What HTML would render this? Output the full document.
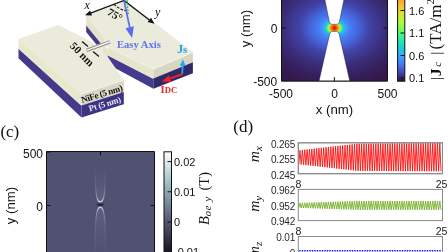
<!DOCTYPE html>
<html><head><meta charset="utf-8"><style>
html,body{margin:0;padding:0;background:#fff;}
body{width:448px;height:252px;overflow:hidden;}
svg{display:block;}
</style></head><body>
<svg width="448" height="252" viewBox="0 0 448 252">
<rect width="448" height="252" fill="#fff"/>
<polygon points="86.20,15.50 104.50,38.00 104.50,48.00 86.20,25.50" fill="#e4e4cc" />
<polygon points="86.20,25.50 104.50,48.00 104.50,54.50 86.20,32.00" fill="#443a8a" />
<polygon points="107.50,46.50 153.40,69.20 153.40,78.60 107.50,55.00" fill="#e6e6cc" />
<polygon points="107.50,55.00 153.40,78.60 153.40,88.80 107.50,64.00" fill="#453a8c" />
<line x1="107.50" y1="55.00" x2="153.40" y2="78.60" stroke="#f7f7de" stroke-width="0.8"/>
<polygon points="153.40,69.20 192.90,52.20 192.90,62.20 153.40,78.60" fill="#d8d6c2" />
<polygon points="153.40,78.60 192.90,62.20 192.90,73.20 153.40,88.80" fill="#2f2a6a" />
<polygon points="86.20,15.50 124.50,-0.50 192.90,52.20 153.40,69.20 107.50,46.50 104.50,38.00" fill="#ebebdc" />
<line x1="153.40" y1="69.20" x2="192.90" y2="52.20" stroke="#f4f4ea" stroke-width="0.9"/>
<line x1="107.50" y1="46.50" x2="153.40" y2="69.20" stroke="#f4f4ea" stroke-width="0.7"/>
<polygon points="18.50,39.00 81.50,94.00 81.50,105.50 18.50,48.50" fill="#e8e8ce" />
<polygon points="18.50,48.50 81.50,105.50 81.50,117.50 18.50,58.30" fill="#453a8a" />
<line x1="18.50" y1="48.50" x2="81.50" y2="105.50" stroke="#f7f7de" stroke-width="0.8"/>
<polygon points="81.50,94.00 123.80,80.00 123.80,92.00 81.50,105.50" fill="#dad8c4" />
<polygon points="81.50,105.50 123.80,92.00 123.80,104.30 81.50,117.50" fill="#3c3484" />
<polygon points="18.50,39.00 58.30,25.00 90.00,41.00 103.00,50.00 123.80,80.00 81.50,94.00" fill="#ebebdc" />
<line x1="81.50" y1="94.00" x2="123.80" y2="80.00" stroke="#f4f4ea" stroke-width="0.9"/>
<polygon points="92.00,46.50 101.50,43.00 108.00,44.50 104.00,51.00 96.00,50.00" fill="#ebebdc" />
<path d="M102.5,46 Q106,46.5 107.5,50 L108,55.5 Q104,55 103,51 Z" fill="#e4e4cc"/>
<line x1="86.5" y1="50.4" x2="110" y2="41.8" stroke="#8e8e86" stroke-width="3.4"/>
<line x1="86.5" y1="50.4" x2="110" y2="41.8" stroke="#f6f6f0" stroke-width="1.5"/>
<line x1="82" y1="41.5" x2="88" y2="46.5" stroke="#111" stroke-width="1.2"/>
<line x1="93" y1="51.5" x2="99" y2="56.5" stroke="#111" stroke-width="1.2"/>
<text x="0" y="0" transform="translate(69.3,46.6) rotate(45)" font-family="'Liberation Serif', 'Times New Roman', serif" font-weight="bold" font-size="11" fill="#111">50 nm</text>
<line x1="124.00" y1="0.50" x2="90.61" y2="13.17" stroke="#111" stroke-width="1.30"/><polygon points="85.00,15.30 90.08,10.38 92.07,15.61" fill="#111" />
<line x1="124.00" y1="0.50" x2="149.73" y2="20.16" stroke="#111" stroke-width="1.30"/><polygon points="154.50,23.80 147.63,22.08 151.03,17.63" fill="#111" />
<line x1="127" y1="0" x2="128.2" y2="14.5" stroke="#2fc040" stroke-width="1.3" stroke-dasharray="2,1.1"/>
<line x1="124.00" y1="0.50" x2="129.81" y2="27.73" stroke="#5b6cf2" stroke-width="1.70"/><polygon points="132.00,38.00 125.50,28.14 133.91,26.34" fill="#5b6cf2" />
<path d="M113.8,4.2 Q119,9.2 125.5,10.6" fill="none" stroke="#111" stroke-width="1.1" stroke-dasharray="2.8,1.3"/>
<text transform="translate(106.4,14.3) rotate(30)" font-family="'Liberation Serif', 'Times New Roman', serif" font-weight="bold" font-size="11" fill="#111">75°</text>
<text x="84.4" y="9.4" font-family="'Liberation Serif', 'Times New Roman', serif" font-style="italic" font-size="12" fill="#111">x</text>
<text x="155" y="15.5" font-family="'Liberation Serif', 'Times New Roman', serif" font-style="italic" font-size="12" fill="#111">y</text>
<text x="117" y="47.5" font-family="'Liberation Serif', 'Times New Roman', serif" font-weight="bold" font-size="10.6" fill="#6272ee">Easy Axis</text>
<line x1="182.20" y1="74.00" x2="182.67" y2="65.29" stroke="#22a6ec" stroke-width="1.80"/><polygon points="183.00,59.30 185.54,65.95 179.75,65.63" fill="#22a6ec" />
<line x1="182.50" y1="74.00" x2="169.68" y2="78.68" stroke="#ee2222" stroke-width="1.90"/><polygon points="161.70,81.60 168.92,75.13 171.39,81.89" fill="#ee2222" />
<text x="177" y="52.8" font-family="'Liberation Serif', 'Times New Roman', serif" font-weight="bold" font-size="12.5" fill="#22a0ea">J<tspan font-size="10.5" dx="-0.3">s</tspan></text>
<text x="160.6" y="92.6" font-family="'Liberation Serif', 'Times New Roman', serif" font-weight="bold" font-size="10.6" fill="#e8262c">I<tspan font-size="8.6" dy="0.8">DC</tspan></text>
<text transform="translate(82.2,103) rotate(-17)" font-family="'Liberation Serif', 'Times New Roman', serif" font-weight="bold" font-size="9" letter-spacing="-0.3" fill="#111">NiFe (5 nm)</text>
<text transform="translate(89.8,111.6) rotate(-17)" font-family="'Liberation Serif', 'Times New Roman', serif" font-weight="bold" font-size="8.7" letter-spacing="-0.2" fill="#ececf6">Pt (5 nm)</text>
<text x="0.4" y="136.8" font-family="'Liberation Serif', 'Times New Roman', serif" font-size="17" fill="#111">(c)</text>
<text x="233.3" y="132.3" font-family="'Liberation Serif', 'Times New Roman', serif" font-size="17" fill="#111">(d)</text>
<defs>
<clipPath id="cb"><rect x="282" y="-24.5" width="105.5" height="105.7"/></clipPath>
<radialGradient id="rg" cx="334.4" cy="27.9" r="80.0" gradientUnits="userSpaceOnUse" gradientTransform="translate(334.4,27.9) scale(1,0.75) translate(-334.4,-27.9)">
<stop offset="0.0000" stop-color="#af1801"/>
<stop offset="0.0312" stop-color="#ce2d04"/>
<stop offset="0.0450" stop-color="#f05b12"/>
<stop offset="0.0575" stop-color="#fea431"/>
<stop offset="0.0713" stop-color="#cbed34"/>
<stop offset="0.0850" stop-color="#6dfe62"/>
<stop offset="0.1000" stop-color="#1de7b2"/>
<stop offset="0.1187" stop-color="#25c0e7"/>
<stop offset="0.1437" stop-color="#3ba0fd"/>
<stop offset="0.1875" stop-color="#4680f6"/>
<stop offset="0.3000" stop-color="#4664da"/>
<stop offset="0.4375" stop-color="#4143a7"/>
<stop offset="0.6500" stop-color="#3a2d79"/>
<stop offset="0.8125" stop-color="#36215f"/>
<stop offset="1.0000" stop-color="#33184a"/>
</radialGradient>
<radialGradient id="core" cx="334.4" cy="27.9" r="6" gradientUnits="userSpaceOnUse">
<stop offset="0.000" stop-color="#c32503" stop-opacity="1"/>
<stop offset="0.250" stop-color="#d83706" stop-opacity="1"/>
<stop offset="0.500" stop-color="#f9781e" stop-opacity="0.9"/>
<stop offset="0.750" stop-color="#f8be39" stop-opacity="0.5"/>
<stop offset="1.000" stop-color="#e1dd37" stop-opacity="0"/>
</radialGradient>
<linearGradient id="tb" x1="0" y1="81.2" x2="0" y2="-34" gradientUnits="userSpaceOnUse">
<stop offset="0.000" stop-color="#30123b"/>
<stop offset="0.025" stop-color="#372466"/>
<stop offset="0.050" stop-color="#3d358b"/>
<stop offset="0.075" stop-color="#4249b1"/>
<stop offset="0.100" stop-color="#4559cb"/>
<stop offset="0.125" stop-color="#466be3"/>
<stop offset="0.150" stop-color="#477bf2"/>
<stop offset="0.175" stop-color="#458afc"/>
<stop offset="0.200" stop-color="#3e9bfe"/>
<stop offset="0.225" stop-color="#35abf8"/>
<stop offset="0.250" stop-color="#28bceb"/>
<stop offset="0.275" stop-color="#1fc9dd"/>
<stop offset="0.300" stop-color="#19d5cd"/>
<stop offset="0.325" stop-color="#19e2bb"/>
<stop offset="0.350" stop-color="#20eaac"/>
<stop offset="0.375" stop-color="#32f298"/>
<stop offset="0.400" stop-color="#46f884"/>
<stop offset="0.425" stop-color="#5dfc6f"/>
<stop offset="0.450" stop-color="#79fe59"/>
<stop offset="0.475" stop-color="#8fff49"/>
<stop offset="0.500" stop-color="#a4fc3c"/>
<stop offset="0.525" stop-color="#b4f836"/>
<stop offset="0.550" stop-color="#c3f134"/>
<stop offset="0.575" stop-color="#d4e735"/>
<stop offset="0.600" stop-color="#e1dd37"/>
<stop offset="0.625" stop-color="#eecf3a"/>
<stop offset="0.650" stop-color="#f6c33a"/>
<stop offset="0.675" stop-color="#fbb637"/>
<stop offset="0.700" stop-color="#fea431"/>
<stop offset="0.725" stop-color="#fe932a"/>
<stop offset="0.750" stop-color="#fb7e21"/>
<stop offset="0.775" stop-color="#f66c19"/>
<stop offset="0.800" stop-color="#f05b12"/>
<stop offset="0.825" stop-color="#e7490c"/>
<stop offset="0.850" stop-color="#dd3d08"/>
<stop offset="0.875" stop-color="#d02f05"/>
<stop offset="0.900" stop-color="#c32503"/>
<stop offset="0.925" stop-color="#b41b01"/>
<stop offset="0.950" stop-color="#a11201"/>
<stop offset="0.975" stop-color="#8e0a01"/>
<stop offset="1.000" stop-color="#7a0403"/>
</linearGradient>
</defs>
<g clip-path="url(#cb)">
<rect x="282" y="-24.5" width="105.5" height="105.7" fill="url(#rg)"/>
<rect x="328.4" y="21.9" width="12" height="12" fill="url(#core)"/>
<path d="M319.94,-25.00 L348.86,-25.00 L339.60,21.30 Q339.00,24.30 337.00,24.30 L331.80,24.30 Q329.80,24.30 329.20,21.30 Z" fill="#fff" stroke="#20124a" stroke-width="0.8" stroke-opacity="0.6"/>
<path d="M319.04,81.00 L349.76,81.00 L339.27,34.40 Q338.60,31.40 336.60,31.40 L332.20,31.40 Q330.20,31.40 329.52,34.40 Z" fill="#fff" stroke="#20124a" stroke-width="0.8" stroke-opacity="0.6"/>
</g>
<path d="M281.5,-1 V81.2 H387.5 V-1" fill="none" stroke="#111" stroke-width="1"/>
<path d="M334.4,81.2 v-4 M281.5,27.9 h4 M387.5,27.9 h-4" stroke="#111" stroke-width="1"/>
<text x="277.5" y="33.1" font-family="'Liberation Sans', Arial, sans-serif" font-size="12" text-anchor="end" fill="#111">0</text>
<text x="277.2" y="85.9" font-family="'Liberation Sans', Arial, sans-serif" font-size="12" text-anchor="end" fill="#111">-500</text>
<text x="281" y="97.5" font-family="'Liberation Sans', Arial, sans-serif" font-size="12" text-anchor="middle" fill="#111">-500</text>
<text x="334.5" y="97.5" font-family="'Liberation Sans', Arial, sans-serif" font-size="12" text-anchor="middle" fill="#111">0</text>
<text x="387.5" y="97.5" font-family="'Liberation Sans', Arial, sans-serif" font-size="12" text-anchor="middle" fill="#111">500</text>
<text x="334.5" y="113.8" font-family="'Liberation Sans', Arial, sans-serif" font-size="13.2" text-anchor="middle" fill="#111">x (nm)</text>
<text transform="translate(249.5,28.5) rotate(-90)" font-family="'Liberation Sans', Arial, sans-serif" font-size="13.2" text-anchor="middle" fill="#111">y (nm)</text>
<rect x="397.6" y="-5" width="7.2" height="86.2" fill="url(#tb)" stroke="#111" stroke-width="1"/>
<line x1="400.5" y1="78.0" x2="404.5" y2="78.0" stroke="#111" stroke-width="1"/>
<text x="409" y="82.0" font-family="'Liberation Sans', Arial, sans-serif" font-size="11" fill="#111">0.1</text>
<line x1="400.5" y1="55.5" x2="404.5" y2="55.5" stroke="#111" stroke-width="1"/>
<text x="409" y="59.5" font-family="'Liberation Sans', Arial, sans-serif" font-size="11" fill="#111">0.6</text>
<line x1="400.5" y1="33.0" x2="404.5" y2="33.0" stroke="#111" stroke-width="1"/>
<text x="409" y="37.0" font-family="'Liberation Sans', Arial, sans-serif" font-size="11" fill="#111">1.1</text>
<line x1="400.5" y1="10.5" x2="404.5" y2="10.5" stroke="#111" stroke-width="1"/>
<text x="409" y="14.5" font-family="'Liberation Sans', Arial, sans-serif" font-size="11" fill="#111">1.6</text>
<text transform="translate(440.5,80.4) rotate(-90)" font-family="'Liberation Serif', 'Times New Roman', serif" font-size="15.5" fill="#111"><tspan x="0.3">|</tspan><tspan x="4.2" font-weight="bold">J</tspan><tspan x="13.6" font-size="11" font-style="italic" dy="0.5">c</tspan><tspan x="25.6" dy="-0.5">|</tspan><tspan x="31" font-size="17">(TA/m</tspan><tspan font-size="11" dy="-6.5">2</tspan><tspan font-size="17" dy="6.5">)</tspan></text>
<defs><clipPath id="cc"><rect x="47" y="152" width="107.5" height="108.5"/></clipPath>
<linearGradient id="bn" x1="0" y1="264" x2="0" y2="151.5" gradientUnits="userSpaceOnUse">
<stop offset="0.000" stop-color="#000000"/>
<stop offset="0.062" stop-color="#0e0e13"/>
<stop offset="0.125" stop-color="#1c1c27"/>
<stop offset="0.188" stop-color="#2a2a3a"/>
<stop offset="0.250" stop-color="#38384e"/>
<stop offset="0.312" stop-color="#464661"/>
<stop offset="0.375" stop-color="#545574"/>
<stop offset="0.438" stop-color="#626882"/>
<stop offset="0.500" stop-color="#707b90"/>
<stop offset="0.562" stop-color="#7e8f9e"/>
<stop offset="0.625" stop-color="#8ca2ac"/>
<stop offset="0.688" stop-color="#9ab5ba"/>
<stop offset="0.750" stop-color="#a9c8c8"/>
<stop offset="0.812" stop-color="#bfd6d6"/>
<stop offset="0.875" stop-color="#d5e4e4"/>
<stop offset="0.938" stop-color="#eaf2f2"/>
<stop offset="1.000" stop-color="#ffffff"/>
</linearGradient>
<radialGradient id="dk" cx="0.5" cy="0.5" r="0.5"><stop offset="0" stop-color="#141420" stop-opacity="0.95"/><stop offset="0.5" stop-color="#202034" stop-opacity="0.6"/><stop offset="1" stop-color="#545473" stop-opacity="0"/></radialGradient>
</defs>
<g clip-path="url(#cc)">
<rect x="47" y="152" width="107.5" height="108.5" fill="#515172"/>
<defs><linearGradient id="ug1" x1="0" y1="166" x2="0" y2="202.5" gradientUnits="userSpaceOnUse"><stop offset="0" stop-color="#9a9ab8" stop-opacity="0"/><stop offset="0.55" stop-color="#a4a4c2" stop-opacity="0.2"/><stop offset="0.85" stop-color="#c4cad8" stop-opacity="0.5"/><stop offset="1" stop-color="#e8eef0" stop-opacity="1"/></linearGradient><linearGradient id="ug2" x1="0" y1="252" x2="0" y2="206.5" gradientUnits="userSpaceOnUse"><stop offset="0" stop-color="#9a9ab8" stop-opacity="0.05"/><stop offset="0.55" stop-color="#a4a4c2" stop-opacity="0.18"/><stop offset="0.85" stop-color="#c0c6d4" stop-opacity="0.45"/><stop offset="1" stop-color="#dfe6ea" stop-opacity="1"/></linearGradient><linearGradient id="uf1" x1="0" y1="170" x2="0" y2="202" gradientUnits="userSpaceOnUse"><stop offset="0" stop-color="#6a6a90" stop-opacity="0"/><stop offset="1" stop-color="#6a6a90" stop-opacity="0.6"/></linearGradient><linearGradient id="uf2" x1="0" y1="250" x2="0" y2="207" gradientUnits="userSpaceOnUse"><stop offset="0" stop-color="#6a6a90" stop-opacity="0"/><stop offset="1" stop-color="#6a6a90" stop-opacity="0.55"/></linearGradient></defs>
<path d="M95.2,166 C95.2,190 95.8,201.6 100.3,201.9 C104.8,201.6 105.4,190 105.4,166 Z" fill="url(#uf1)" stroke="none"/>
<path d="M95.2,166 C95.2,190 95.8,201.6 100.3,201.9 C104.8,201.6 105.4,190 105.4,166" fill="none" stroke="url(#ug1)" stroke-width="1.2"/>
<path d="M95,252 C95,222 95.8,207.6 100.3,207.2 C104.8,207.6 105.6,222 105.6,252 Z" fill="url(#uf2)" stroke="none"/>
<path d="M95,252 C95,222 95.8,207.6 100.3,207.2 C104.8,207.6 105.6,222 105.6,252" fill="none" stroke="url(#ug2)" stroke-width="1.2"/>
<ellipse cx="100.3" cy="204.6" rx="6" ry="2.3" fill="url(#dk)"/>
</g>
<path d="M46.5,252 V151.5 H154.5 V252" fill="none" stroke="#111" stroke-width="1"/>
<path d="M46.5,205.5 h4 M154.5,205.5 h-4 M100.5,151.5 v4 M46.5,152.0 h4" stroke="#111" stroke-width="1"/>
<text x="43" y="158" font-family="'Liberation Sans', Arial, sans-serif" font-size="12" text-anchor="end" fill="#111">500</text>
<text x="43" y="210.5" font-family="'Liberation Sans', Arial, sans-serif" font-size="12" text-anchor="end" fill="#111">0</text>
<text transform="translate(15,205.5) rotate(-90)" font-family="'Liberation Sans', Arial, sans-serif" font-size="13.2" text-anchor="middle" fill="#111">y (nm)</text>
<rect x="164" y="151.8" width="7.5" height="115" fill="url(#bn)" stroke="#111" stroke-width="1"/>
<line x1="167.5" y1="161.6" x2="171.5" y2="161.6" stroke="#111" stroke-width="1"/>
<text x="174" y="165.6" font-family="'Liberation Sans', Arial, sans-serif" font-size="11" fill="#111">0.02</text>
<line x1="167.5" y1="191.8" x2="171.5" y2="191.8" stroke="#111" stroke-width="1"/>
<text x="174" y="195.8" font-family="'Liberation Sans', Arial, sans-serif" font-size="11" fill="#111">0.01</text>
<line x1="167.5" y1="222.0" x2="171.5" y2="222.0" stroke="#111" stroke-width="1"/>
<text x="174" y="226.0" font-family="'Liberation Sans', Arial, sans-serif" font-size="11" fill="#111">0</text>
<line x1="167.5" y1="252.2" x2="171.5" y2="252.2" stroke="#111" stroke-width="1"/>
<text x="174" y="256.2" font-family="'Liberation Sans', Arial, sans-serif" font-size="11" fill="#111">-0.01</text>
<text transform="translate(208.6,225) rotate(-90)" font-family="'Liberation Serif', 'Times New Roman', serif" font-size="14.5" fill="#111"><tspan font-style="italic">B</tspan><tspan font-style="italic" font-size="10.5" dy="2.2" letter-spacing="0.7">oe y</tspan><tspan dy="-2.2" dx="2"> (T)</tspan></text>
<rect x="298.3" y="142.8" width="144.2" height="30.9" fill="none" stroke="#8a8a8a" stroke-width="1"/>
<polyline points="298.80,164.19 299.99,150.28 301.17,164.46 302.36,150.01 303.54,164.73 304.73,149.74 305.91,165.00 307.10,149.47 308.28,165.27 309.47,149.20 310.65,165.53 311.84,148.93 313.02,165.80 314.21,148.66 315.39,166.07 316.58,148.39 317.76,166.34 318.95,148.13 320.13,166.61 321.32,147.86 322.50,166.88 323.69,147.59 324.87,167.15 326.06,147.32 327.24,167.41 328.43,147.05 329.61,167.68 330.80,146.78 331.98,167.95 333.17,146.51 334.35,168.22 335.54,146.25 336.72,168.49 337.91,145.98 339.09,168.76 340.28,145.71 341.46,169.03 342.65,145.44 343.83,169.29 345.02,145.17 346.20,169.56 347.39,144.90 348.57,169.83 349.76,144.63 350.94,170.10 352.13,144.37 353.31,170.37 354.50,144.10 355.68,170.64 356.87,143.83 358.05,170.90 359.24,143.69 360.42,170.91 361.61,143.68 362.79,170.92 363.98,143.67 365.16,170.93 366.35,143.66 367.53,170.95 368.72,143.65 369.90,170.96 371.09,143.64 372.27,170.97 373.46,143.63 374.64,170.98 375.83,143.62 377.01,170.99 378.20,143.60 379.38,171.00 380.57,143.59 381.75,171.01 382.94,143.58 384.12,171.02 385.31,143.57 386.49,171.04 387.68,143.56 388.86,171.05 390.05,143.55 391.23,171.06 392.42,143.54 393.60,171.07 394.79,143.52 395.97,171.08 397.16,143.51 398.34,171.09 399.53,143.50 400.71,171.10 401.90,143.49 403.08,171.11 404.27,143.48 405.45,171.13 406.64,143.47 407.82,171.14 409.01,143.46 410.19,171.15 411.38,143.45 412.56,171.16 413.75,143.43 414.93,171.17 416.12,143.42 417.30,171.18 418.49,143.41 419.67,171.19 420.86,143.40 422.04,171.20 423.23,143.39 424.41,171.22 425.60,143.38 426.78,171.23 427.97,143.37 429.15,171.24 430.34,143.36 431.52,171.25 432.71,143.34 433.89,171.26 435.08,143.33 436.26,171.27 437.45,143.32 438.63,171.28 439.82,143.31 441.00,171.30" fill="none" stroke="#ff1010" stroke-width="0.9"/>
<rect x="298.3" y="142.8" width="144.2" height="30.9" fill="none" stroke="#8a8a8a" stroke-width="1"/>
<rect x="298.3" y="189.4" width="144.2" height="31.2" fill="none" stroke="#8a8a8a" stroke-width="1"/>
<polyline points="298.80,207.83 299.99,202.93 301.17,207.91 302.36,202.85 303.54,207.98 304.73,202.78 305.91,208.06 307.10,202.70 308.28,208.14 309.47,202.62 310.65,208.22 311.84,202.54 313.02,208.30 314.21,202.46 315.39,208.38 316.58,202.38 317.76,208.46 318.95,202.30 320.13,208.54 321.32,202.22 322.50,208.62 323.69,202.14 324.87,208.70 326.06,202.06 327.24,208.77 328.43,201.99 329.61,208.85 330.80,201.91 331.98,208.93 333.17,201.83 334.35,209.01 335.54,201.75 336.72,209.09 337.91,201.67 339.09,209.17 340.28,201.59 341.46,209.25 342.65,201.51 343.83,209.33 345.02,201.43 346.20,209.41 347.39,201.35 348.57,209.49 349.76,201.27 350.94,209.56 352.13,201.20 353.31,209.64 354.50,201.12 355.68,209.72 356.87,201.04 358.05,209.80 359.24,201.00 360.42,209.80 361.61,201.00 362.79,209.80 363.98,201.00 365.16,209.80 366.35,201.00 367.53,209.80 368.72,201.00 369.90,209.80 371.09,201.00 372.27,209.80 373.46,201.00 374.64,209.80 375.83,201.00 377.01,209.80 378.20,201.00 379.38,209.80 380.57,201.00 381.75,209.80 382.94,201.00 384.12,209.80 385.31,201.00 386.49,209.80 387.68,201.00 388.86,209.80 390.05,201.00 391.23,209.80 392.42,201.00 393.60,209.80 394.79,201.00 395.97,209.80 397.16,201.00 398.34,209.80 399.53,201.00 400.71,209.80 401.90,201.00 403.08,209.80 404.27,201.00 405.45,209.80 406.64,201.00 407.82,209.80 409.01,201.00 410.19,209.80 411.38,201.00 412.56,209.80 413.75,201.00 414.93,209.80 416.12,201.00 417.30,209.80 418.49,201.00 419.67,209.80 420.86,201.00 422.04,209.80 423.23,201.00 424.41,209.80 425.60,201.00 426.78,209.80 427.97,201.00 429.15,209.80 430.34,201.00 431.52,209.80 432.71,201.00 433.89,209.80 435.08,201.00 436.26,209.80 437.45,201.00 438.63,209.80 439.82,201.00 441.00,209.80" fill="none" stroke="#78b02a" stroke-width="0.9"/>
<rect x="298.3" y="236.5" width="144.2" height="33.5" fill="none" stroke="#8a8a8a" stroke-width="1"/>
<line x1="299.3" y1="250.8" x2="441.5" y2="250.8" stroke="#0a0aff" stroke-width="1.5" stroke-dasharray="1.4,1.1"/>
<text x="295.0" y="147.6" font-family="'Liberation Sans', Arial, sans-serif" font-size="10" letter-spacing="-0.2" text-anchor="end" fill="#2a2a2a">0.265</text>
<text x="295.0" y="163.0" font-family="'Liberation Sans', Arial, sans-serif" font-size="10" letter-spacing="-0.2" text-anchor="end" fill="#2a2a2a">0.255</text>
<text x="295.0" y="178.5" font-family="'Liberation Sans', Arial, sans-serif" font-size="10" letter-spacing="-0.2" text-anchor="end" fill="#2a2a2a">0.245</text>
<text x="295.0" y="194.2" font-family="'Liberation Sans', Arial, sans-serif" font-size="10" letter-spacing="-0.2" text-anchor="end" fill="#2a2a2a">0.962</text>
<text x="295.0" y="209.8" font-family="'Liberation Sans', Arial, sans-serif" font-size="10" letter-spacing="-0.2" text-anchor="end" fill="#2a2a2a">0.952</text>
<text x="295.0" y="225.4" font-family="'Liberation Sans', Arial, sans-serif" font-size="10" letter-spacing="-0.2" text-anchor="end" fill="#2a2a2a">0.942</text>
<text x="295.0" y="241.3" font-family="'Liberation Sans', Arial, sans-serif" font-size="10" letter-spacing="-0.2" text-anchor="end" fill="#2a2a2a">0.01</text>
<text x="295.0" y="256.8" font-family="'Liberation Sans', Arial, sans-serif" font-size="10" letter-spacing="-0.2" text-anchor="end" fill="#2a2a2a">0</text>
<text x="298.3" y="187.5" font-family="'Liberation Sans', Arial, sans-serif" font-size="10.5" text-anchor="middle" fill="#222">8</text>
<text x="441.5" y="188.0" font-family="'Liberation Sans', Arial, sans-serif" font-size="10.5" text-anchor="middle" fill="#222">25</text>
<text x="298.3" y="234.5" font-family="'Liberation Sans', Arial, sans-serif" font-size="10.5" text-anchor="middle" fill="#222">8</text>
<text x="441.5" y="235.0" font-family="'Liberation Sans', Arial, sans-serif" font-size="10.5" text-anchor="middle" fill="#222">25</text>
<text transform="translate(258.8,154.2) rotate(-90)" font-family="'Liberation Serif', 'Times New Roman', serif" font-size="15.5" font-style="italic" text-anchor="middle" fill="#111">m<tspan font-size="11" dy="3">x</tspan></text>
<text transform="translate(258.8,203.8) rotate(-90)" font-family="'Liberation Serif', 'Times New Roman', serif" font-size="15.5" font-style="italic" text-anchor="middle" fill="#111">m<tspan font-size="11" dy="3">y</tspan></text>
<text transform="translate(258.8,249.5) rotate(-90)" font-family="'Liberation Serif', 'Times New Roman', serif" font-size="15.5" font-style="italic" text-anchor="middle" fill="#111">m<tspan font-size="11" dy="3">z</tspan></text>
</svg>
</body></html>
